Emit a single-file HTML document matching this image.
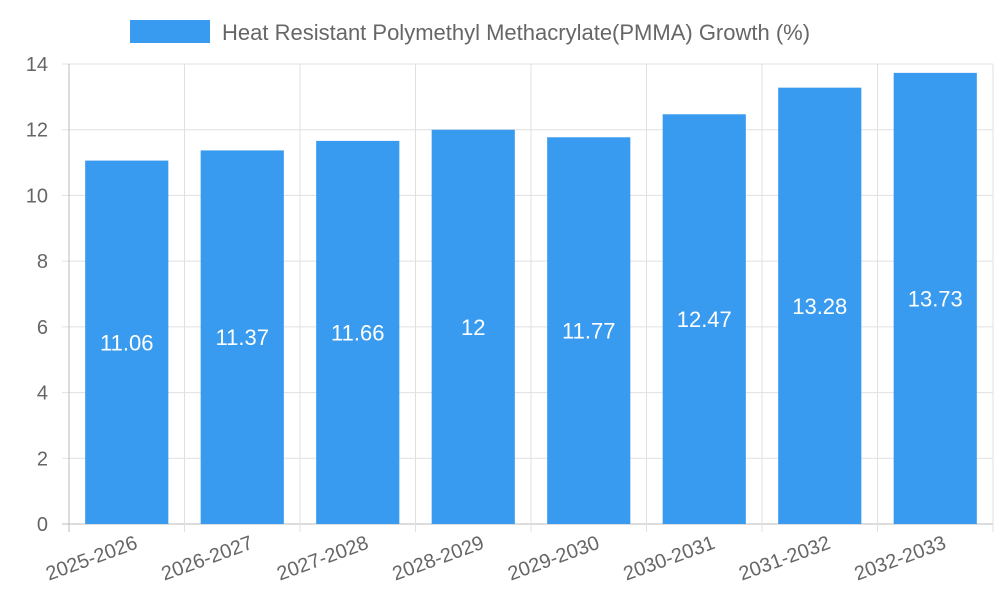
<!DOCTYPE html>
<html><head><meta charset="utf-8"><style>
body{margin:0;background:#fff;font-family:"Liberation Sans",sans-serif}
</style></head><body>
<svg id="chart" width="1000" height="600" xmlns="http://www.w3.org/2000/svg" font-family="Liberation Sans, sans-serif">
<g>
<rect x="130" y="20" width="80" height="23" fill="#389bef"/>
<text x="222" y="40" font-size="22" fill="#666">Heat Resistant Polymethyl Methacrylate(PMMA) Growth (%)</text>
</g>
<g id="grid"></g>
<g id="bars"></g>
<g id="axes"></g>
</svg>
<script>
const categories=["2025-2026","2026-2027","2027-2028","2028-2029","2029-2030","2030-2031","2031-2032","2032-2033"];
const values=[11.06,11.37,11.66,12,11.77,12.47,13.28,13.73];
const yTicks=[0,2,4,6,8,10,12,14];
const L=69,R=993,T=64,B=524,yMax=14;
const NS="http://www.w3.org/2000/svg";
const cw=(R-L)/categories.length;
const y=v=>B-(v/yMax)*(B-T);
const x=i=>L+i*cw;
function mk(tag,attrs,parent,txt){const e=document.createElementNS(NS,tag);for(const k in attrs)e.setAttribute(k,attrs[k]);if(txt!==undefined)e.textContent=txt;parent.appendChild(e);return e;}
const g=document.getElementById('grid'),bg=document.getElementById('bars'),ag=document.getElementById('axes');
yTicks.forEach(t=>{
 const l=mk('line',{x1:L-7,x2:R,y1:y(t),y2:y(t),stroke:t===0?'#bbb':'#e0e0e0','stroke-width':1},g);
 
 
 const tx=mk('text',{x:48,y:y(t)+7,'text-anchor':'end','font-size':20,fill:'#666'},ag,String(t));
 
 
});
for(let i=0;i<=categories.length;i++){
 const l=mk('line',{x1:x(i),x2:x(i),y1:T,y2:B+8,stroke:i===0?'#bbb':'#e0e0e0','stroke-width':1},g);
 
 
}
categories.forEach((c,i)=>{
 const bw=cw*0.72,bx=x(i)+(cw-bw)/2,v=values[i];
 const r=mk('rect',{x:bx,y:y(v),width:bw,height:B-y(v),fill:'#389bef'},bg);
 
 
 const vl=mk('text',{x:bx+bw/2,y:(y(v)+B)/2+8,'text-anchor':'middle','font-size':22,fill:'#fff'},bg,String(v));
 
 
 const cx=x(i)+cw/2;
 const xl=mk('text',{x:cx+12,y:B+24,'text-anchor':'end','font-size':20,fill:'#666',transform:`rotate(-20 ${cx+12} ${B+24})`},ag,c);
 
 
});
</script>
</body></html>
